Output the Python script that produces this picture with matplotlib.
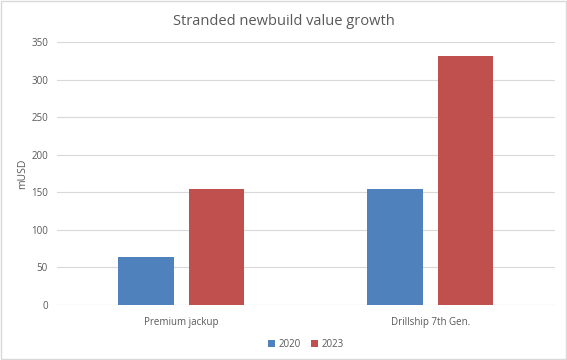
import matplotlib.pyplot as plt
import numpy as np

plt.rcParams['font.family'] = ['Open Sans', 'DejaVu Sans']

categories = ['Premium jackup', 'Drillship 7th Gen.']
series = ['2020', '2023']
values_2020 = [64, 155]
values_2023 = [155, 332]
colors = ['#4f81bd', '#c0504d']
text_col = '#595959'

fig = plt.figure(figsize=(5.67, 3.6), dpi=100)
ax = fig.add_axes([0.1005, 0.153, 0.878, 0.73])

x = np.arange(len(categories))
w = 0.223
off = w / 2 + 0.03
ax.bar(x - off, values_2020, w, color=colors[0], label=series[0], zorder=3)
ax.bar(x + off, values_2023, w, color=colors[1], label=series[1], zorder=3)

ax.set_xlim(-0.5, 1.5)
ax.set_ylim(0, 350)
ax.set_yticks(range(0, 351, 50))
ax.set_xticks(x)
ax.set_xticklabels(categories)
ax.grid(axis='y', color='#d9d9d9', linewidth=0.8, zorder=0)
for s in ax.spines.values():
    s.set_visible(False)
ax.axhline(0, color='#d9d9d9', linewidth=0.8, zorder=1)
ax.tick_params(length=0, labelsize=7, colors=text_col)
ax.tick_params(axis='y', pad=6.5)
ax.tick_params(axis='x', pad=9)
ax.set_ylabel('mUSD', fontsize=7.5, color=text_col, labelpad=2)
fig.suptitle('Stranded newbuild value growth', y=0.96, fontsize=10.5, color=text_col)

ax.legend(loc='lower center', bbox_to_anchor=(0.5, -0.205), ncol=2, frameon=False,
          fontsize=7, labelcolor=text_col, handlelength=0.7, handleheight=0.7,
          columnspacing=1.0, handletextpad=0.4)

fig.patches.append(plt.Rectangle((0.001, 0.002), 0.997, 0.995, transform=fig.transFigure,
                                 fill=False, edgecolor='#d9d9d9', linewidth=1))
fig.savefig('out.png', dpi=100)
